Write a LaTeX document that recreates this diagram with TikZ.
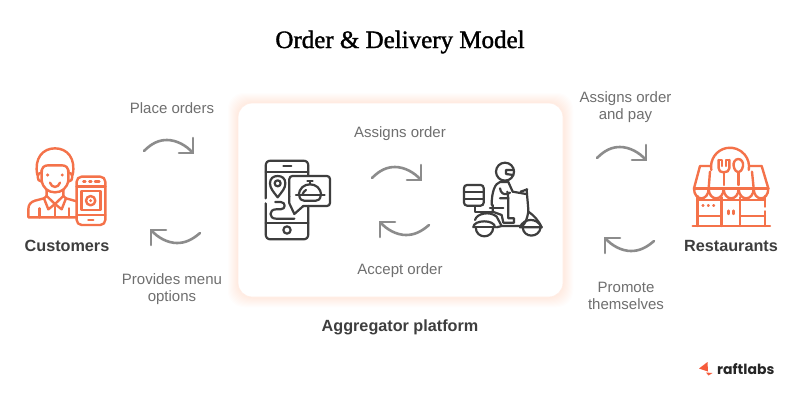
\documentclass[tikz,border=0pt]{standalone}
\usepackage{fontspec}
\setmainfont{Liberation Sans}
\newfontfamily\titlefont[FakeBold=1.4]{Liberation Serif}
\newfontfamily\logofont{Poppins}
\usetikzlibrary{calc}
\definecolor{orng}{HTML}{F4724A}
\definecolor{glow}{HTML}{FF9A6E}
\definecolor{dark}{HTML}{3E3E3E}
\definecolor{lbl}{HTML}{6F6F6F}
\definecolor{arrowgray}{HTML}{8C8C8C}
\tikzset{
  x=1pt,y=-1pt,
  lab/.style={text=lbl,font=\fontsize{15}{17}\selectfont,align=center,inner sep=0pt},
  head/.style={text=dark,font=\fontsize{16.2}{18}\selectfont\bfseries,align=center,inner sep=0pt},
  oic/.style={draw=orng,line width=2.4pt,line cap=round,line join=round},
  dic/.style={draw=dark,line width=2.2pt,line cap=round,line join=round},
  zoomed/.style={shift={(#1)},x=0.3333pt,y=-0.3333pt},
  pics/arrtop/.style={code={
    \draw[arrowgray,line width=2.6pt,line cap=round,line join=round,fill=none]
      (0,11) .. controls (8,3) and (15,0) .. (23,0) .. controls (32,0) and (42,5) .. (49,13);
    \draw[arrowgray,line width=2.6pt,line cap=round,line join=miter,fill=none]
      (49,-2) -- (49,13) -- (35,13);
  }},
  pics/arrbot/.style={code={
    \draw[arrowgray,line width=2.6pt,line cap=round,line join=round,fill=none]
      (49,3) .. controls (41,10) and (34,13) .. (26,13) .. controls (17,13) and (7,8) .. (0,0);
    \draw[arrowgray,line width=2.6pt,line cap=round,line join=miter,fill=none]
      (0,15) -- (0,0) -- (15,0);
  }},
}
\begin{document}
\begin{tikzpicture}
\useasboundingbox (0,0) rectangle (800,400);
\fill[white] (0,0) rectangle (800,400);
% card glow
\foreach \i in {10,9,...,1}{
  \fill[glow,opacity=0.018,rounded corners=16pt] ({238-\i},{103-\i}) rectangle ({563+\i},{297+\i});
}
\node[draw=glow!18,fill=white,line width=0.8pt,rounded corners=14pt,minimum width=325pt,minimum height=194pt,inner sep=0pt] (card) at (400.5,200) {};

% title and labels
\node[inner sep=0pt,text=black,font=\titlefont\fontsize{25}{30}\selectfont,anchor=base] (title) at (400,48) {Order \& Delivery Model};
\node[lab] (lplace) at (172,108) {Place orders};
\node[lab] (lmenu) at (172,289) {Provides menu\\options};
\node[lab] (lassign) at (400,134) {Assigns order};
\node[lab] (laccept) at (400,271) {Accept order};
\node[lab] (lpay) at (625.5,107.5) {Assigns order\\and pay};
\node[lab] (lpromote) at (626,296) {Promote\\themselves};
\node[head] (customers) at (67,245.5) {Customers};
\node[head] (restaurants) at (731,245.5) {Restaurants};
\node[head] (platform) at (400,327.5) {Aggregator platform};

% arrows
\pic at (144,140) {arrtop};
\pic at (151,230) {arrbot};
\pic at (372,167) {arrtop};
\pic at (380,222) {arrbot};
\pic at (597,147) {arrtop};
\pic at (605,238) {arrbot};

% customer
\begin{scope}[zoomed={0,130}]
 \draw[oic] (112,135) .. controls (102,85) and (128,55) .. (165,55) .. controls (202,55) and (228,85) .. (218,135);
 \draw[oic] (125,128) .. controls (125,112) and (132,106) .. (145,106) -- (185,106) .. controls (198,106) and (205,112) .. (205,128);
 \draw[oic] (125,120) -- (125,150) .. controls (128,175) and (145,187) .. (165,187) .. controls (185,187) and (202,175) .. (205,150) -- (205,120);
 \draw[oic] (125,128) .. controls (110,125) and (108,155) .. (125,155);
 \draw[oic] (205,128) .. controls (220,125) and (222,155) .. (205,155);
 \fill[orng] (143,135) circle (5) (187,135) circle (5);
 \draw[oic] (150,158) .. controls (155,175) and (175,175) .. (180,158);
 \draw[oic] (140,178) -- (140,198) -- (165,222) -- (190,198) -- (190,178);
 \draw[oic] (140,198) -- (132,205) -- (145,238) -- (165,222) -- (185,238) -- (198,205) -- (190,198);
 \draw[oic] (132,205) -- (105,212) .. controls (92,216) and (85,224) .. (85,238) -- (85,262) -- (228,262);
 \draw[oic] (198,205) -- (230,214);
 \draw[oic] (118,235) -- (118,262) (165,230) -- (165,262) (207,235) -- (207,262);
 \draw[oic,rounded corners=5pt] (230,140) rectangle (316,285);
 \draw[oic] (230,170) -- (316,170) (230,255) -- (316,255);
 \draw[oic] (250,155) -- (256,155) (268,155) -- (274,155) (285,155) -- (298,155);
 \draw[oic] (265,270) -- (280,270);
 \draw[oic] (245,183) rectangle (301,240);
 \draw[oic] (272,212) circle (14);
 \fill[orng] (272,212) circle (5);
\end{scope}

% platform phone
\begin{scope}[zoomed={250,140}]
 \draw[dic] (175,105) -- (175,78) .. controls (175,68) and (170,62) .. (160,62) -- (62,62) .. controls (52,62) and (47,68) .. (47,78) -- (47,175);
 \draw[dic] (47,190) -- (47,282) .. controls (47,292) and (52,298) .. (62,298) -- (160,298) .. controls (170,298) and (175,292) .. (175,282) -- (175,198);
 \draw[dic] (47,95) -- (175,95) (47,250) -- (175,250);
 \draw[dic] (100,77) -- (124,77);
 \draw[dic] (111,270) circle (11);
 \draw[dic] (83,172) .. controls (70,155) and (60,145) .. (60,130) .. controls (60,115) and (70,108) .. (83,108) .. controls (96,108) and (106,115) .. (106,130) .. controls (106,145) and (96,155) .. (83,172) -- cycle;
 \draw[dic] (83,130) circle (9);
 \draw[dic] (76,186) -- (92,186) .. controls (108,186) and (108,208) .. (92,208) -- (78,208) .. controls (56,208) and (56,236) .. (78,236) -- (133,236);
 \draw[dic,rounded corners=3pt] (160,198) -- (240,198) -- (240,108) -- (118,108) -- (118,170);
 \draw[dic] (118,170) -- (118,190) -- (133,222) -- (160,198);
 \draw[dic] (146,165) .. controls (148,145) and (162,133) .. (180,133) .. controls (198,133) and (212,145) .. (214,165);
 \draw[dic] (168,150) .. controls (163,153) and (160,157) .. (158,162);
 \draw[dic] (138,165) -- (224,165);
 \draw[dic] (180,133) -- (180,124);
 \draw[dic] (172,123) -- (188,123);
 \draw[dic] (148,168) .. controls (150,178) and (155,182) .. (162,182) -- (198,182) .. controls (205,182) and (210,178) .. (212,168);
\end{scope}

% scooter
\begin{scope}[zoomed={450,150}]
 \draw[dic,rounded corners=3pt] (42,105) rectangle (101,167);
 \draw[dic] (42,126) -- (101,126) (42,146) -- (101,146);
 \draw[dic] (165,65) circle (27);
 \draw[dic] (168,60) -- (192,60) (168,60) -- (168,72) -- (190,75);
 \draw[dic] (125,165) .. controls (125,125) and (135,100) .. (150,96) -- (175,96);
 \draw[dic] (150,115) .. controls (152,128) and (160,135) .. (172,132) -- (180,128);
 \draw[dic] (175,96) -- (188,125) -- (228,132);
 \draw[dic] (150,145) -- (175,145) -- (175,205) -- (192,205) -- (192,218) -- (160,218) -- (155,195);
 \draw[dic] (172,125) -- (175,145);
 \draw[dic] (128,165) -- (128,185) -- (155,195);
 \draw[dic] (75,168) -- (75,185) -- (128,185);
 \draw[dic] (120,175) -- (160,175);
 \draw[dic] (75,210) .. controls (80,190) and (120,182) .. (140,200) -- (155,228) -- (215,228) .. controls (225,225) and (232,205) .. (235,185) .. controls (235,170) and (232,150) .. (230,118);
 \draw[dic] (212,125) -- (232,118);
 \draw[dic] (235,185) .. controls (250,195) and (265,210) .. (275,232);
 \draw[dic] (210,232) .. controls (220,205) and (260,200) .. (275,232) -- cycle;
 \draw[dic] (218,232) .. controls (220,265) and (268,265) .. (272,232);
 \draw[dic] (70,232) -- (135,232);
 \draw[dic] (70,232) .. controls (70,208) and (135,208) .. (135,232);
 \draw[dic] (77,232) .. controls (78,268) and (128,268) .. (130,232);
 \draw[dic] (140,232) -- (155,228);
\end{scope}

% restaurant
\begin{scope}[zoomed={680,140}]
 \draw[oic] (94,90) arc[start angle=170,delta angle=200,radius=57];
 \draw[oic] (116,60) -- (116,85) .. controls (116,93) and (122,97) .. (131,97) .. controls (140,97) and (148,93) .. (148,85) -- (148,60);
 \draw[oic] (116,60) -- (126,60) -- (126,78) (138,78) -- (138,60) -- (148,60);
 \draw[oic] (132,97) -- (132,135);
 \draw[oic] (175,57) .. controls (165,57) and (159,68) .. (161,78) .. controls (163,90) and (170,97) .. (175,97) .. controls (180,97) and (187,90) .. (189,78) .. controls (191,68) and (185,57) .. (175,57);
 \draw[oic] (175,97) -- (175,135);
 \draw[oic] (93,78) -- (60,78) -- (42,145);
 \draw[oic] (208,78) -- (245,78) -- (265,145);
 \draw[oic] (90,95) -- (86,145) (216,95) -- (221,145);
 \draw[oic] (42,145) -- (265,145);
 \foreach \a/\b in {42/86,86/131,131/176,176/221,221/265}{
   \draw[oic] (\a,145) .. controls (\a,185) and (\b,185) .. (\b,145);
 }
 \draw[oic] (52,168) -- (52,258) (255,168) -- (255,200) (255,214) -- (255,258);
 \draw[oic] (38,258) -- (270,258);
 \draw[oic] (52,180) -- (255,180) (125,172) -- (125,258) (180,172) -- (180,258);
 \draw[oic] (52,228) -- (125,228) (180,228) -- (255,228);
 \draw[oic] (68,196) -- (70,196) (84,196) -- (86,196) (100,196) -- (102,196);
 \draw[oic] (146,212) -- (146,222) (160,212) -- (160,222);
\end{scope}

% logo
\fill[orng!80!red] (699,368.5) -- (707.5,362) -- (708,371.5) -- cycle;
\fill[orng!80!red] (706,372.5) -- (712.5,373) -- (708.5,375.5) -- cycle;
\node[inner sep=0pt,text=black!85,anchor=base west,font=\logofont\fontsize{14}{16}\selectfont\bfseries] (logo) at (717,374) {raftlabs};
\end{tikzpicture}
\end{document}
